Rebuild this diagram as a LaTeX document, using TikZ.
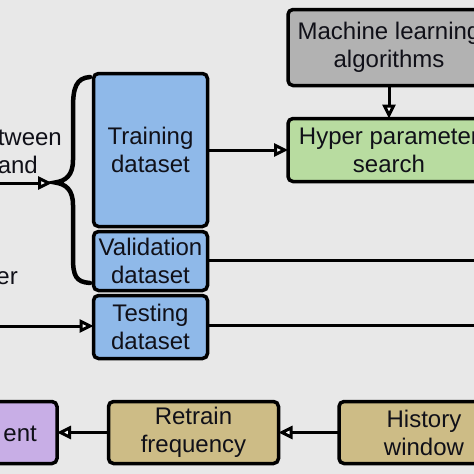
\documentclass[tikz,border=0pt]{standalone}
\usepackage{fontspec}
\setmainfont{Liberation Sans}
\usetikzlibrary{arrows.meta}
\definecolor{bgc}{HTML}{E8E8E8}
\definecolor{bluec}{HTML}{8FB9E9}
\definecolor{greenc}{HTML}{B8DCA0}
\definecolor{grayc}{HTML}{B2B2B2}
\definecolor{tanc}{HTML}{CDBC86}
\definecolor{purplec}{HTML}{C8AEE6}
\definecolor{txt}{HTML}{101018}
\tikzset{
  box/.style={draw=black, line width=3.5pt, rounded corners=5pt, align=center,
    text=txt, font=\fontsize{24}{28}\selectfont, inner sep=0pt, outer sep=0pt},
  arr/.style={line width=3pt, -{Triangle[open, fill=white, length=14pt, width=13pt, line width=3pt]}},
  ln/.style={line width=3pt},
  lbl/.style={text=txt, font=\fontsize{24}{28}\selectfont, inner sep=0pt}
}
\begin{document}
\begin{tikzpicture}[x=1pt,y=-1pt]
\useasboundingbox (0,0) rectangle (474,474);
\clip (0,0) rectangle (474,474);
\fill[bgc] (0,0) rectangle (474,474);
% boxes
\node[box, fill=bluec, minimum width=114pt, minimum height=153pt] (train) at (150.5,150) {Training\\dataset};
\node[box, fill=bluec, minimum width=114pt, minimum height=59pt] (val) at (150.5,261) {Validation\\dataset};
\node[box, fill=bluec, minimum width=114pt, minimum height=63pt] (test) at (150.5,327) {Testing\\dataset};
\node[box, fill=grayc, minimum width=202pt, minimum height=76pt] (ml) at (389,47.5) {Machine learning\\algorithms};
\node[box, fill=greenc, minimum width=202pt, minimum height=63pt] (hyper) at (389,150) {Hyper parameter\\search};
\node[box, fill=tanc, minimum width=170pt, minimum height=62pt] (ret) at (193.5,432.5) {Retrain\\frequency};
\node[box, fill=tanc, minimum width=170pt, minimum height=62pt] (hist) at (424,432.5) {History\\window};
\node[box, fill=purplec, minimum width=170pt, minimum height=62pt, anchor=east] (eval) at (57,432.5) {};
\node[lbl, anchor=base east] (evaltxt) at (37,441) {ent};
% left texts
\node[lbl, anchor=base east] (t1) at (62,145) {tween};
\node[lbl, anchor=base east] (t2) at (38,173) {and};
\node[lbl, anchor=base east] (t3) at (18,284) {er};
% brace
\draw[line width=4.5pt, line cap=round] (90,77) .. controls (76,78) and (73,88) .. (73,108) -- (73,160)
  .. controls (73,175) and (66,181) .. (55,182.5)
  .. controls (66,184) and (73,190) .. (73,205) -- (73,258)
  .. controls (73,276) and (76,282) .. (90,283);
\coordinate (tip) at (52,183);
\coordinate (inA) at (-5,183);
\coordinate (inB) at (-5,326);
\coordinate (valR) at (480,260);
\coordinate (testR) at (480,325);
% connectors
\draw[arr] (inA) -- (tip);
\draw[arr] (inB) -- (test.west |- inB);
\draw[arr] (train.east) -- (hyper.west);
\draw[arr] (ml.south) -- (hyper.north);
\draw[ln] (val.east |- valR) -- (valR);
\draw[ln] (test.east |- testR) -- (testR);
\draw[arr] (hist.west) -- (ret.east);
\draw[arr] (ret.west) -- (eval.east);
\end{tikzpicture}
\end{document}
